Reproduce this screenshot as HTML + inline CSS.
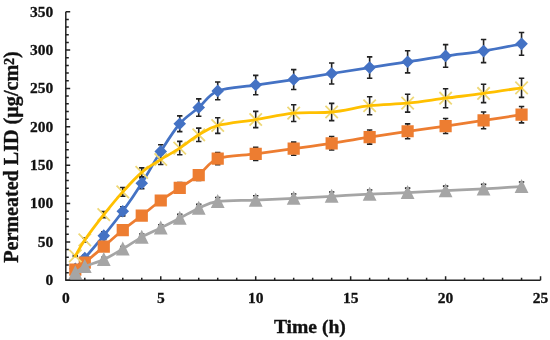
<!DOCTYPE html>
<html><head><meta charset="utf-8"><style>
html,body{margin:0;padding:0;background:#fff;}
body{width:550px;height:340px;overflow:hidden;}
svg{display:block;filter:blur(0.3px);}
</style></head><body>
<svg width="550" height="340" viewBox="0 0 550 340">
<rect width="550" height="340" fill="#fff"/>
<path d="M75.30,266.49V271.09M72.59,266.49H78.00M72.59,271.09H78.00M84.79,254.98V261.12M82.09,254.98H87.49M82.09,261.12H87.49M103.78,231.80V239.47M101.08,231.80H106.48M101.08,239.47H106.48M122.77,206.71V215.92M120.07,206.71H125.47M120.07,215.92H125.47M141.76,177.93V188.67M139.06,177.93H144.46M139.06,188.67H144.46M160.75,144.78V157.98M158.05,144.78H163.45M158.05,157.98H163.45M179.74,115.92V131.58M177.04,115.92H182.44M177.04,131.58H182.44M198.73,98.89V116.23M196.03,98.89H201.43M196.03,116.23H201.43M217.72,82.00V99.81M215.02,82.00H220.42M215.02,99.81H220.42M255.70,75.33V94.82M253.00,75.33H258.40M253.00,94.82H258.40M293.68,69.65V89.45M290.98,69.65H296.38M290.98,89.45H296.38M331.66,62.97V84.00M328.96,62.97H334.36M328.96,84.00H334.36M369.64,56.83V78.32M366.94,56.83H372.34M366.94,78.32H372.34M407.62,50.77V72.87M404.92,50.77H410.32M404.92,72.87H410.32M445.60,44.63V67.19M442.90,44.63H448.30M442.90,67.19H448.30M483.58,39.57V62.59M480.88,39.57H486.28M480.88,62.59H486.28M521.56,32.43V55.30M518.86,32.43H524.26M518.86,55.30H524.26M75.30,268.02V271.09M72.59,268.02H78.00M72.59,271.09H78.00M84.79,260.35V264.95M82.09,260.35H87.49M82.09,264.95H87.49M103.78,243.54V249.68M101.08,243.54H106.48M101.08,249.68H106.48M122.77,226.20V233.87M120.07,226.20H125.47M120.07,233.87H125.47M141.76,210.93V220.14M139.06,210.93H144.46M139.06,220.14H144.46M160.75,195.89V205.09M158.05,195.89H163.45M158.05,205.09H163.45M179.74,182.46V193.20M177.04,182.46H182.44M177.04,193.20H182.44M198.73,169.72V180.46M196.03,169.72H201.43M196.03,180.46H201.43M217.72,152.53V164.81M215.02,152.53H220.42M215.02,164.81H220.42M255.70,147.23V160.43M253.00,147.23H258.40M253.00,160.43H258.40M293.68,142.09V155.29M290.98,142.09H296.38M290.98,155.29H296.38M331.66,136.57V150.07M328.96,136.57H334.36M328.96,150.07H334.36M369.64,130.04V144.16M366.94,130.04H372.34M366.94,144.16H372.34M407.62,123.83V138.71M404.92,123.83H410.32M404.92,138.71H410.32M445.60,118.53V133.57M442.90,118.53H448.30M442.90,133.57H448.30M483.58,112.01V128.74M480.88,112.01H486.28M480.88,128.74H486.28M521.56,106.48V122.91M518.86,106.48H524.26M518.86,122.91H524.26M75.30,271.09V274.16M72.59,271.09H78.00M72.59,274.16H78.00M84.79,264.95V268.02M82.09,264.95H87.49M82.09,268.02H87.49M103.78,257.20V261.81M101.08,257.20H106.48M101.08,261.81H106.48M122.77,246.61V251.22M120.07,246.61H125.47M120.07,251.22H125.47M141.76,234.03V240.16M139.06,234.03H144.46M139.06,240.16H144.46M160.75,224.82V230.96M158.05,224.82H163.45M158.05,230.96H163.45M179.74,214.38V222.05M177.04,214.38H182.44M177.04,222.05H182.44M198.73,204.33V212.00M196.03,204.33H201.43M196.03,212.00H201.43M217.72,197.57V205.25M215.02,197.57H220.42M215.02,205.25H220.42M255.70,195.81V204.25M253.00,195.81H258.40M253.00,204.25H258.40M293.68,194.04V202.49M290.98,194.04H296.38M290.98,202.49H296.38M331.66,192.05V200.49M328.96,192.05H334.36M328.96,200.49H334.36M369.64,189.98V198.42M366.94,189.98H372.34M366.94,198.42H372.34M407.62,188.14V196.88M404.92,188.14H410.32M404.92,196.88H410.32M445.60,186.14V195.04M442.90,186.14H448.30M442.90,195.04H448.30M483.58,184.38V193.43M480.88,184.38H486.28M480.88,193.43H486.28M521.56,182.00V191.05M518.86,182.00H524.26M518.86,191.05H524.26M75.30,255.28V256.51M72.59,255.28H78.00M72.59,256.51H78.00M84.79,237.94V241.93M82.09,237.94H87.49M82.09,241.93H87.49M103.78,211.54V217.68M101.08,211.54H106.48M101.08,217.68H106.48M122.77,187.44V196.19M120.07,187.44H125.47M120.07,196.19H125.47M141.76,167.88V176.78M139.06,167.88H144.46M139.06,176.78H144.46M160.75,154.52V164.50M158.05,154.52H163.45M158.05,164.50H163.45M179.74,141.40V154.75M177.04,141.40H182.44M177.04,154.75H182.44M198.73,128.12V141.48M196.03,128.12H201.43M196.03,141.48H201.43M217.72,117.69V133.34M215.02,117.69H220.42M215.02,133.34H220.42M255.70,111.40V127.66M253.00,111.40H258.40M253.00,127.66H258.40M293.68,104.72V121.45M290.98,104.72H296.38M290.98,121.45H296.38M331.66,103.41V120.60M328.96,103.41H334.36M328.96,120.60H334.36M369.64,96.74V114.70M366.94,96.74H372.34M366.94,114.70H372.34M407.62,94.21V112.16M404.92,94.21H410.32M404.92,112.16H410.32M445.60,88.68V107.71M442.90,88.68H448.30M442.90,107.71H448.30M483.58,84.23V102.65M480.88,84.23H486.28M480.88,102.65H486.28M521.56,78.32V97.35M518.86,78.32H524.26M518.86,97.35H524.26" fill="none" stroke="#222" stroke-width="1.6"/>
<path d="M75.30,268.79 C76.88,267.00 80.04,263.57 84.79,258.05 C89.54,252.52 97.45,243.43 103.78,235.64 C110.11,227.85 116.44,220.03 122.77,211.31 C129.10,202.59 135.43,193.29 141.76,183.30 C148.09,173.31 154.42,161.30 160.75,151.38 C167.08,141.45 173.41,131.05 179.74,123.75 C186.07,116.45 192.40,113.03 198.73,107.56 C205.06,102.08 208.22,94.65 217.72,90.91 C227.21,87.16 243.04,86.97 255.70,85.07 C268.36,83.18 281.02,81.48 293.68,79.55 C306.34,77.62 319.00,75.48 331.66,73.49 C344.32,71.49 356.98,69.52 369.64,67.58 C382.30,65.63 394.96,63.77 407.62,61.82 C420.28,59.88 432.94,57.70 445.60,55.91 C458.26,54.12 470.92,53.09 483.58,51.08 C496.24,49.07 515.23,45.07 521.56,43.86" fill="none" stroke="#4472C4" stroke-width="2.75" stroke-linejoin="round" stroke-linecap="round"/>
<path d="M75.30,262.49L81.59,268.79L75.30,275.09L69.00,268.79ZM84.79,251.75L91.09,258.05L84.79,264.35L78.49,258.05ZM103.78,229.34L110.08,235.64L103.78,241.94L97.48,235.64ZM122.77,205.01L129.07,211.31L122.77,217.61L116.47,211.31ZM141.76,177.00L148.06,183.30L141.76,189.60L135.46,183.30ZM160.75,145.08L167.05,151.38L160.75,157.68L154.45,151.38ZM179.74,117.45L186.04,123.75L179.74,130.05L173.44,123.75ZM198.73,101.26L205.03,107.56L198.73,113.86L192.43,107.56ZM217.72,84.61L224.02,90.91L217.72,97.21L211.42,90.91ZM255.70,78.77L262.00,85.07L255.70,91.37L249.40,85.07ZM293.68,73.25L299.98,79.55L293.68,85.85L287.38,79.55ZM331.66,67.19L337.96,73.49L331.66,79.79L325.36,73.49ZM369.64,61.28L375.94,67.58L369.64,73.88L363.34,67.58ZM407.62,55.52L413.92,61.82L407.62,68.12L401.32,61.82ZM445.60,49.61L451.90,55.91L445.60,62.21L439.30,55.91ZM483.58,44.78L489.88,51.08L483.58,57.38L477.28,51.08ZM521.56,37.56L527.86,43.86L521.56,50.16L515.26,43.86Z" fill="#4472C4"/>
<path d="M75.30,269.56 C76.88,268.41 80.04,266.47 84.79,262.65 C89.54,258.83 97.45,252.05 103.78,246.61 C110.11,241.18 116.44,235.22 122.77,230.04 C129.10,224.86 135.43,220.46 141.76,215.53 C148.09,210.61 154.42,205.11 160.75,200.49 C167.08,195.87 173.41,192.06 179.74,187.83 C186.07,183.59 192.40,179.95 198.73,175.09 C205.06,170.23 208.22,162.21 217.72,158.67 C227.21,155.12 243.04,155.50 255.70,153.83 C268.36,152.17 281.02,150.44 293.68,148.69 C306.34,146.94 319.00,145.25 331.66,143.32 C344.32,141.39 356.98,139.11 369.64,137.10 C382.30,135.10 394.96,133.11 407.62,131.27 C420.28,129.43 432.94,127.87 445.60,126.05 C458.26,124.24 470.92,122.27 483.58,120.37 C496.24,118.48 515.23,115.64 521.56,114.70" fill="none" stroke="#ED7D31" stroke-width="2.75" stroke-linejoin="round" stroke-linecap="round"/>
<path d="M69.20,263.46h12.20v12.20h-12.20ZM78.69,256.55h12.20v12.20h-12.20ZM97.68,240.51h12.20v12.20h-12.20ZM116.67,223.94h12.20v12.20h-12.20ZM135.66,209.43h12.20v12.20h-12.20ZM154.65,194.39h12.20v12.20h-12.20ZM173.64,181.73h12.20v12.20h-12.20ZM192.63,168.99h12.20v12.20h-12.20ZM211.62,152.57h12.20v12.20h-12.20ZM249.60,147.73h12.20v12.20h-12.20ZM287.58,142.59h12.20v12.20h-12.20ZM325.56,137.22h12.20v12.20h-12.20ZM363.54,131.00h12.20v12.20h-12.20ZM401.52,125.17h12.20v12.20h-12.20ZM439.50,119.95h12.20v12.20h-12.20ZM477.48,114.27h12.20v12.20h-12.20ZM515.46,108.60h12.20v12.20h-12.20Z" fill="#ED7D31"/>
<path d="M75.30,272.63 C76.88,271.60 80.04,268.67 84.79,266.49 C89.54,264.30 97.45,262.43 103.78,259.50 C110.11,256.57 116.44,252.65 122.77,248.91 C129.10,245.18 135.43,240.60 141.76,237.10 C148.09,233.59 154.42,231.03 160.75,227.89 C167.08,224.74 173.41,221.50 179.74,218.22 C186.07,214.93 192.40,210.97 198.73,208.16 C205.06,205.36 208.22,202.77 217.72,201.41 C227.21,200.06 243.04,200.55 255.70,200.03 C268.36,199.51 281.02,198.89 293.68,198.26 C306.34,197.64 319.00,196.95 331.66,196.27 C344.32,195.59 356.98,194.82 369.64,194.20 C382.30,193.57 394.96,193.11 407.62,192.51 C420.28,191.91 432.94,191.19 445.60,190.59 C458.26,189.99 470.92,189.58 483.58,188.90 C496.24,188.22 515.23,186.92 521.56,186.52" fill="none" stroke="#A5A5A5" stroke-width="2.75" stroke-linejoin="round" stroke-linecap="round"/>
<path d="M75.30,265.23L82.20,279.23L68.39,279.23ZM84.79,259.09L91.69,273.09L77.89,273.09ZM103.78,252.10L110.68,266.10L96.88,266.10ZM122.77,241.51L129.67,255.51L115.87,255.51ZM141.76,229.70L148.66,243.70L134.86,243.70ZM160.75,220.49L167.65,234.49L153.85,234.49ZM179.74,210.82L186.64,224.82L172.84,224.82ZM198.73,200.76L205.63,214.76L191.83,214.76ZM217.72,194.01L224.62,208.01L210.82,208.01ZM255.70,192.63L262.60,206.63L248.80,206.63ZM293.68,190.86L300.58,204.86L286.78,204.86ZM331.66,188.87L338.56,202.87L324.76,202.87ZM369.64,186.80L376.54,200.80L362.74,200.80ZM407.62,185.11L414.52,199.11L400.72,199.11ZM445.60,183.19L452.50,197.19L438.70,197.19ZM483.58,181.50L490.48,195.50L476.68,195.50ZM521.56,179.12L528.46,193.12L514.66,193.12Z" fill="#A5A5A5"/>
<path d="M69.09,249.70L81.50,262.10M69.09,262.10L81.50,249.70M78.59,233.73L90.99,246.13M78.59,246.13L90.99,233.73M97.58,208.41L109.98,220.81M97.58,220.81L109.98,208.41M116.57,185.62L128.97,198.02M116.57,198.02L128.97,185.62M135.56,166.13L147.96,178.53M135.56,178.53L147.96,166.13M154.55,153.31L166.95,165.71M154.55,165.71L166.95,153.31M173.54,141.88L185.94,154.28M173.54,154.28L185.94,141.88M192.53,128.60L204.93,141.00M192.53,141.00L204.93,128.60M211.52,119.32L223.92,131.72M211.52,131.72L223.92,119.32M249.50,113.33L261.90,125.73M249.50,125.73L261.90,113.33M287.48,106.88L299.88,119.28M287.48,119.28L299.88,106.88M325.46,105.81L337.86,118.21M325.46,118.21L337.86,105.81M363.44,99.52L375.84,111.92M363.44,111.92L375.84,99.52M401.42,96.98L413.82,109.38M401.42,109.38L413.82,96.98M439.40,92.00L451.80,104.40M439.40,104.40L451.80,92.00M477.38,87.24L489.78,99.64M477.38,99.64L489.78,87.24M515.36,81.64L527.76,94.04M515.36,94.04L527.76,81.64" fill="none" stroke="#EFD877" stroke-width="1.8"/>
<path d="M75.30,255.90 C76.88,253.24 80.04,246.82 84.79,239.93 C89.54,233.05 97.45,222.63 103.78,214.61 C110.11,206.59 116.44,198.87 122.77,191.82 C129.10,184.77 135.43,177.71 141.76,172.33 C148.09,166.94 154.42,163.55 160.75,159.51 C167.08,155.47 173.41,152.20 179.74,148.08 C186.07,143.96 192.40,138.56 198.73,134.80 C205.06,131.04 208.22,128.06 217.72,125.52 C227.21,122.97 243.04,121.60 255.70,119.53 C268.36,117.46 281.02,114.34 293.68,113.08 C306.34,111.83 319.00,113.24 331.66,112.01 C344.32,110.78 356.98,107.19 369.64,105.72 C382.30,104.25 394.96,104.44 407.62,103.18 C420.28,101.93 432.94,99.82 445.60,98.20 C458.26,96.57 470.92,95.16 483.58,93.44 C496.24,91.71 515.23,88.77 521.56,87.84" fill="none" stroke="#FFC000" stroke-width="2.8" stroke-linejoin="round" stroke-linecap="round"/>
<g fill="none" stroke="#222" stroke-width="1.5">
<path d="M65.80,11.71V280.30H540.55" stroke-linejoin="round"/>
<path d="M65.80,280.30h4.4M65.80,272.63h3.0M65.80,264.95h3.0M65.80,257.28h3.0M65.80,249.60h3.0M65.80,241.93h4.4M65.80,234.26h3.0M65.80,226.58h3.0M65.80,218.91h3.0M65.80,211.23h3.0M65.80,203.56h4.4M65.80,195.89h3.0M65.80,188.21h3.0M65.80,180.54h3.0M65.80,172.86h3.0M65.80,165.19h4.4M65.80,157.52h3.0M65.80,149.84h3.0M65.80,142.17h3.0M65.80,134.49h3.0M65.80,126.82h4.4M65.80,119.15h3.0M65.80,111.47h3.0M65.80,103.80h3.0M65.80,96.12h3.0M65.80,88.45h4.4M65.80,80.78h3.0M65.80,73.10h3.0M65.80,65.43h3.0M65.80,57.75h3.0M65.80,50.08h4.4M65.80,42.41h3.0M65.80,34.73h3.0M65.80,27.06h3.0M65.80,19.38h3.0M65.80,11.71h4.4M84.79,280.30v-2.6M103.78,280.30v-2.6M122.77,280.30v-2.6M141.76,280.30v-2.6M160.75,280.30v-4.0M179.74,280.30v-2.6M198.73,280.30v-2.6M217.72,280.30v-2.6M236.71,280.30v-2.6M255.70,280.30v-4.0M274.69,280.30v-2.6M293.68,280.30v-2.6M312.67,280.30v-2.6M331.66,280.30v-2.6M350.65,280.30v-4.0M369.64,280.30v-2.6M388.63,280.30v-2.6M407.62,280.30v-2.6M426.61,280.30v-2.6M445.60,280.30v-4.0M464.59,280.30v-2.6M483.58,280.30v-2.6M502.57,280.30v-2.6M521.56,280.30v-2.6M540.55,280.30v-4.0"/>
</g>
<g font-family="Liberation Serif, serif" font-weight="bold" font-size="15.5" fill="#111" stroke="#111" stroke-width="0.3">
<text x="53.3" y="285.15" text-anchor="end">0</text><text x="53.3" y="246.78" text-anchor="end">50</text><text x="53.3" y="208.41" text-anchor="end">100</text><text x="53.3" y="170.04" text-anchor="end">150</text><text x="53.3" y="131.67" text-anchor="end">200</text><text x="53.3" y="93.30" text-anchor="end">250</text><text x="53.3" y="54.93" text-anchor="end">300</text><text x="53.3" y="16.56" text-anchor="end">350</text>
<text x="65.80" y="303.3" text-anchor="middle">0</text><text x="160.75" y="303.3" text-anchor="middle">5</text><text x="255.70" y="303.3" text-anchor="middle">10</text><text x="350.65" y="303.3" text-anchor="middle">15</text><text x="445.60" y="303.3" text-anchor="middle">20</text><text x="540.55" y="303.3" text-anchor="middle">25</text>
</g>
<text x="309.9" y="332.9" text-anchor="middle" font-family="Liberation Serif, serif" font-weight="bold" font-size="19.6" fill="#111" stroke="#111" stroke-width="0.35">Time (h)</text>
<text transform="translate(18.3,157.0) rotate(-90)" text-anchor="middle" font-family="Liberation Serif, serif" font-weight="bold" font-size="20.1" fill="#111" stroke="#111" stroke-width="0.35">Permeated LID (µg/cm<tspan dy="-4.8" font-size="14">2</tspan><tspan dy="4.8">)</tspan></text>
</svg>
</body></html>
